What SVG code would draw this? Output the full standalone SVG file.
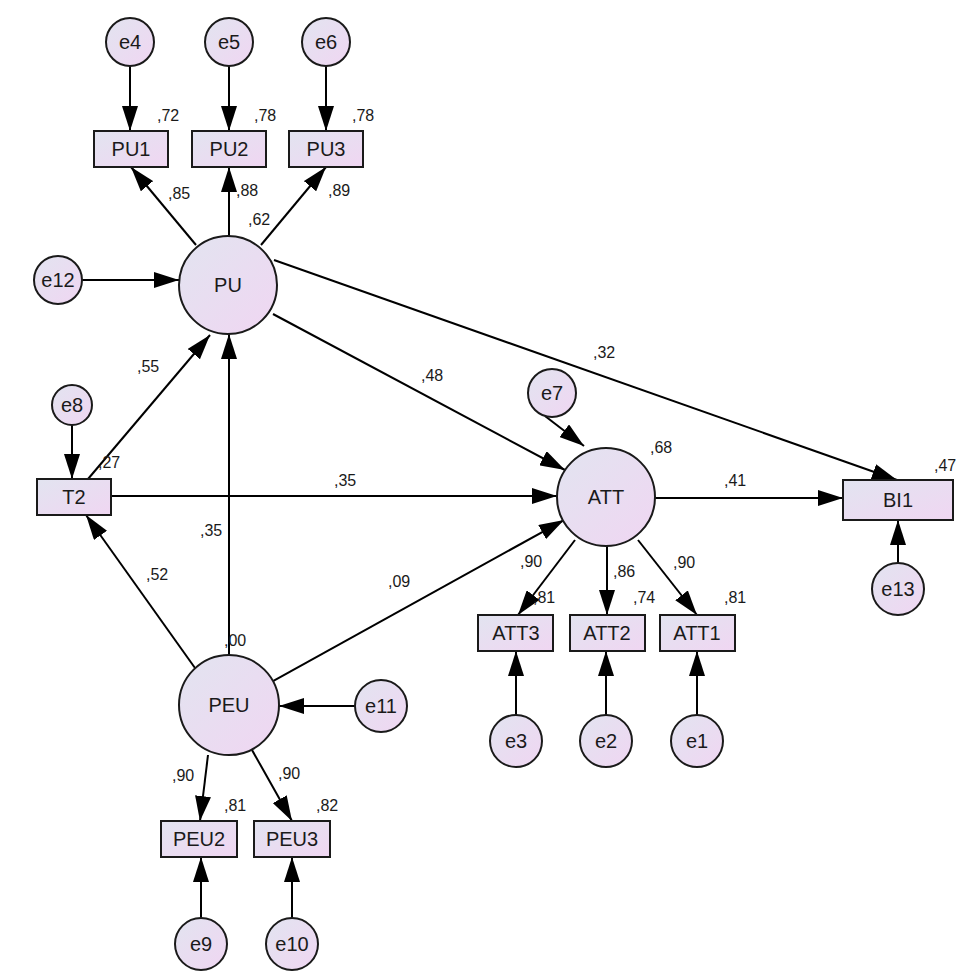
<svg xmlns="http://www.w3.org/2000/svg" width="967" height="973" viewBox="0 0 967 973">
<defs>
<linearGradient id="g" x1="0" y1="0" x2="1" y2="1"><stop offset="0" stop-color="#e2e4f0"/><stop offset="1" stop-color="#f0d6f2"/></linearGradient>
<marker id="b" viewBox="0 0 10 10" refX="10" refY="5" markerWidth="25" markerHeight="16" markerUnits="userSpaceOnUse" orient="auto" preserveAspectRatio="none"><path d="M0,0L10,5L0,10z" fill="#000"/></marker>
</defs>
<style>
circle,rect{fill:url(#g);stroke:#1a1a1a;stroke-width:2}
text{font-family:"Liberation Sans",Arial,sans-serif;fill:#1a1a1a}
.n{font-size:20px;text-anchor:middle;dominant-baseline:central}
.v{font-size:16px}
line{stroke:#000;stroke-width:2;marker-end:url(#b)}
</style>
<rect width="967" height="973" style="fill:#fff;stroke:none"/>
<g id="connectors">
<line x1="130" y1="66" x2="130" y2="131"/>
<line x1="229" y1="66" x2="229" y2="131"/>
<line x1="326" y1="66" x2="326" y2="131"/>
<line x1="196" y1="245" x2="131" y2="167"/>
<line x1="229" y1="236" x2="229" y2="167"/>
<line x1="261" y1="245" x2="326" y2="167"/>
<line x1="82" y1="280" x2="179" y2="280"/>
<line x1="88" y1="479" x2="210" y2="335"/>
<line x1="72" y1="425" x2="72" y2="479"/>
<line x1="229" y1="655" x2="229" y2="334"/>
<line x1="274" y1="260" x2="897" y2="480"/>
<line x1="273" y1="314" x2="565" y2="470"/>
<line x1="111" y1="496" x2="557" y2="496"/>
<line x1="545" y1="416" x2="584" y2="446"/>
<line x1="195" y1="668" x2="86" y2="515"/>
<line x1="273" y1="681" x2="564" y2="520"/>
<line x1="655" y1="498" x2="843" y2="498"/>
<line x1="898" y1="563" x2="898" y2="520"/>
<line x1="575" y1="540" x2="518" y2="615"/>
<line x1="607" y1="546" x2="607" y2="615"/>
<line x1="638" y1="540" x2="697" y2="615"/>
<line x1="516" y1="715" x2="516" y2="651"/>
<line x1="606" y1="715" x2="606" y2="651"/>
<line x1="697" y1="715" x2="697" y2="651"/>
<line x1="355" y1="706" x2="279" y2="706"/>
<line x1="208" y1="755" x2="200" y2="821"/>
<line x1="252" y1="750" x2="292" y2="821"/>
<line x1="201" y1="918" x2="201" y2="857"/>
<line x1="292" y1="918" x2="292" y2="857"/>
</g>
<g id="e4"><circle cx="130" cy="42" r="24"/><text class="n" x="130" y="42">e4</text></g>
<g id="e5"><circle cx="229" cy="42" r="24"/><text class="n" x="229" y="42">e5</text></g>
<g id="e6"><circle cx="326" cy="42" r="24"/><text class="n" x="326" y="42">e6</text></g>
<g id="PU1"><rect x="94" y="131" width="74" height="36"/><text class="n" x="131" y="149">PU1</text></g>
<g id="PU2"><rect x="192" y="131" width="74" height="36"/><text class="n" x="229" y="149">PU2</text></g>
<g id="PU3"><rect x="289" y="131" width="74" height="36"/><text class="n" x="326" y="149">PU3</text></g>
<g id="PU"><circle cx="228" cy="285" r="49"/><text class="n" x="228" y="285">PU</text></g>
<g id="e12"><circle cx="58" cy="280" r="24"/><text class="n" x="58" y="280">e12</text></g>
<g id="e8"><circle cx="72" cy="405" r="20"/><text class="n" x="72" y="405">e8</text></g>
<g id="T2"><rect x="37" y="479" width="74" height="36"/><text class="n" x="74" y="497">T2</text></g>
<g id="e7"><circle cx="552" cy="393" r="24"/><text class="n" x="552" y="393">e7</text></g>
<g id="ATT"><circle cx="606" cy="497" r="49"/><text class="n" x="606" y="497">ATT</text></g>
<g id="BI1"><rect x="843" y="480" width="110" height="40"/><text class="n" x="898" y="500">BI1</text></g>
<g id="e13"><circle cx="898" cy="589" r="26"/><text class="n" x="898" y="589">e13</text></g>
<g id="ATT3"><rect x="478" y="615" width="75" height="36"/><text class="n" x="516" y="633">ATT3</text></g>
<g id="ATT2"><rect x="570" y="615" width="75" height="36"/><text class="n" x="607" y="633">ATT2</text></g>
<g id="ATT1"><rect x="660" y="615" width="75" height="36"/><text class="n" x="697" y="633">ATT1</text></g>
<g id="e3"><circle cx="516" cy="741" r="26"/><text class="n" x="516" y="741">e3</text></g>
<g id="e2"><circle cx="606" cy="741" r="26"/><text class="n" x="606" y="741">e2</text></g>
<g id="e1"><circle cx="697" cy="741" r="26"/><text class="n" x="697" y="741">e1</text></g>
<g id="PEU"><circle cx="229" cy="705" r="50"/><text class="n" x="229" y="705">PEU</text></g>
<g id="e11"><circle cx="381" cy="706" r="26"/><text class="n" x="381" y="706">e11</text></g>
<g id="PEU2"><rect x="161" y="821" width="76" height="36"/><text class="n" x="199" y="839">PEU2</text></g>
<g id="PEU3"><rect x="254" y="821" width="76" height="36"/><text class="n" x="292" y="839">PEU3</text></g>
<g id="e9"><circle cx="201" cy="944" r="26"/><text class="n" x="201" y="944">e9</text></g>
<g id="e10"><circle cx="292" cy="944" r="26"/><text class="n" x="292" y="944">e10</text></g>
<g id="labels">
<text class="v" x="157" y="121">,72</text>
<text class="v" x="254" y="121">,78</text>
<text class="v" x="352" y="121">,78</text>
<text class="v" x="168" y="199">,85</text>
<text class="v" x="236" y="196">,88</text>
<text class="v" x="328" y="196">,89</text>
<text class="v" x="248" y="225">,62</text>
<text class="v" x="137" y="372">,55</text>
<text class="v" x="98" y="468">,27</text>
<text class="v" x="421" y="381">,48</text>
<text class="v" x="593" y="358">,32</text>
<text class="v" x="334" y="486">,35</text>
<text class="v" x="200" y="536">,35</text>
<text class="v" x="650" y="453">,68</text>
<text class="v" x="724" y="486">,41</text>
<text class="v" x="934" y="471">,47</text>
<text class="v" x="146" y="580">,52</text>
<text class="v" x="388" y="587">,09</text>
<text class="v" x="520" y="567">,90</text>
<text class="v" x="533" y="603">,81</text>
<text class="v" x="613" y="577">,86</text>
<text class="v" x="633" y="603">,74</text>
<text class="v" x="673" y="568">,90</text>
<text class="v" x="724" y="603">,81</text>
<text class="v" x="224" y="646">,00</text>
<text class="v" x="172" y="781">,90</text>
<text class="v" x="278" y="779">,90</text>
<text class="v" x="224" y="811">,81</text>
<text class="v" x="316" y="811">,82</text>
</g>
</svg>
